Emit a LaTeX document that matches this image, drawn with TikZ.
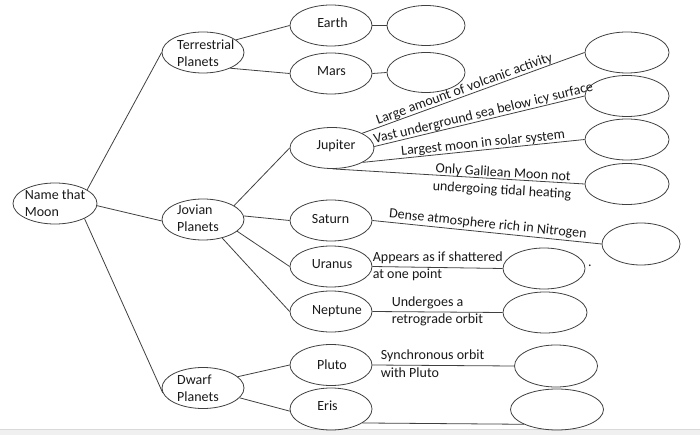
\documentclass[tikz,border=0pt]{standalone}
\usepackage{fontspec}
\setmainfont{Carlito}
\usetikzlibrary{shapes.geometric}
\begin{document}
\begin{tikzpicture}[x=1pt,y=-1pt,
  oval/.style={draw=black!75, line width=0.8pt, ellipse, inner sep=0pt, minimum width=82pt, minimum height=41pt},
  txt/.style={font=\fontsize{14}{17.5}\selectfont, text=black!90, inner sep=0pt, align=left},
  conn/.style={draw=black!75, line width=0.8pt},
  lab/.style={font=\fontsize{14}{17.5}\selectfont, text=black!90, inner sep=0pt, sloped, above},
  sidelab/.style={font=\fontsize{14}{17.5}\selectfont, text=black!90, inner sep=0pt, align=left, anchor=west, pos=0},
]
\useasboundingbox (0,0) rectangle (700,435);
\fill[black!6] (0,429) rectangle (700,435);
\draw[black!15] (0,429) -- (700,429);

% main ellipses
\node[oval, minimum width=84pt] (moon) at (55,203.5) {};
\node[oval] (terr) at (203,52.5) {};
\node[oval] (jov) at (203,219.5) {};
\node[oval] (dwarf) at (203,388) {};
\node[oval] (earth) at (331,25.5) {};
\node[oval] (mars) at (331,73.5) {};
\node[oval, minimum width=84pt] (jup) at (332,148) {};
\node[oval] (sat) at (331,220.5) {};
\node[oval] (ura) at (331,266.5) {};
\node[oval] (nep) at (331,311.5) {};
\node[oval] (plu) at (331,365) {};
\node[oval, minimum height=42pt] (eris) at (331,409) {};

% answer ellipses
\node[oval, minimum width=78pt, minimum height=40pt] (eA) at (426,25.5) {};
\node[oval, minimum width=78pt, minimum height=40pt] (mA) at (426,72.5) {};
\node[oval, minimum width=84pt] (j1) at (627,52.5) {};
\node[oval, minimum width=84pt] (j2) at (627,96) {};
\node[oval, minimum width=84pt] (j3) at (627,139.5) {};
\node[oval, minimum width=84pt] (j4) at (627,184) {};
\node[oval, minimum width=78pt, minimum height=42pt] (sA) at (641,244) {};
\node[oval] (uA) at (544,268.5) {};
\node[oval, minimum width=84pt] (nA) at (545,312.5) {};
\node[oval, minimum width=83pt, minimum height=42pt] (pA) at (556,366) {};
\node[oval, minimum width=93pt] (erA) at (557,409.5) {};

% texts in ellipses
\node[txt] at (55,203.3) {Name that\\Moon};
\node[txt, anchor=west] at (177,53) {Terrestrial\\Planets};
\node[txt, anchor=west] at (177,218) {Jovian\\Planets};
\node[txt, anchor=west] at (177,388) {Dwarf\\Planets};
\node[txt, anchor=base] at (332.5,27.5) {Earth};
\node[txt, anchor=base] at (331.5,75.8) {Mars};
\node[txt, anchor=base] at (336,149.5) {Jupiter};
\node[txt, anchor=base] at (330.5,224) {Saturn};
\node[txt, anchor=base] at (332,269) {Uranus};
\node[txt, anchor=base] at (337,314.5) {Neptune};
\node[txt, anchor=base] at (332,369) {Pluto};
\node[txt, anchor=base] at (327.5,410.5) {Eris};

% tree connectors
\draw[conn] (moon.23.5) -- (terr.west);
\draw[conn] (moon.-3) -- (jov.182);
\draw[conn] (moon.-27) -- (dwarf.187);
\draw[conn] (terr.21) -- (earth.west);
\draw[conn] (terr.-30) -- (mars.west);
\draw[conn] (jov.24) -- (jup.west);
\draw[conn] (jov.5) -- (sat.west);
\draw[conn] (jov.-19) -- (ura.west);
\draw[conn] (jov.-44) -- (nep.west);
\draw[conn] (dwarf.18) -- (plu.west);
\draw[conn] (dwarf.-15.5) -- (eris.183);

% answer connectors
\draw[conn] (earth.east) -- (eA.west);
\draw[conn] (mars.east) -- (mA.west);
\draw[conn] (jup.26) -- node[lab, pos=0.47] {Large amount of volcanic activity} (j1.west);
\draw[conn] (jup.2) -- node[lab, pos=0.526] {Vast underground sea below icy surface} (j2.west);
\draw[conn] (jup.-25) -- node[lab, pos=0.545] {Largest moon in solar system} (j3.west);
\draw[conn] (jup.-88) -- node[font=\fontsize{14}{17.5}\selectfont, text=black!90, inner sep=0pt, sloped, align=center, pos=0.675, yshift=-3pt] {Only Galilean Moon not\\undergoing tidal heating} (j4.west);
\draw[conn] (sat.east) -- node[lab, inner sep=1.5pt, pos=0.5] {Dense atmosphere rich in Nitrogen} (sA.west);
\draw[conn] (ura.east) -- node[sidelab] {Appears as if shattered\\at one point} (uA.west);
\draw[conn] (nep.east) -- node[sidelab, xshift=19pt] {Undergoes a\\retrograde orbit} (nA.west);
\draw[conn] (plu.east) -- node[sidelab, xshift=8pt, yshift=1.5pt] {Synchronous orbit\\with Pluto} (pA.west);
\draw[conn] (eris.-24) -- (erA.204);

\node[txt] (dot) at (590,265.5) {.};
\end{tikzpicture}
\end{document}
